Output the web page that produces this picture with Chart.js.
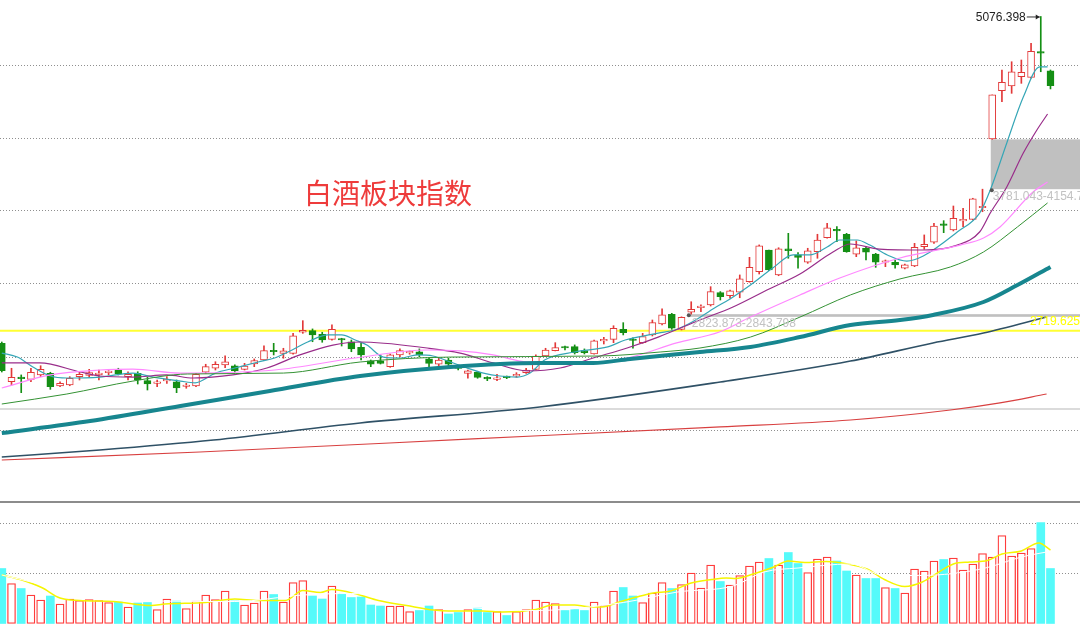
<!DOCTYPE html>
<html>
<head>
<meta charset="utf-8">
<script src="https://cdn.jsdelivr.net/npm/chart.js@4.4.0/dist/chart.umd.min.js"></script>
<style>
  html, body { margin: 0; padding: 0; background: #fff; }
  #wrap { position: relative; width: 1080px; height: 625px; overflow: hidden; }
  #priceBox { position: absolute; left: 0; top: 0; width: 1080px; height: 502px; }
  #volBox { position: absolute; left: 0; top: 503px; width: 1080px; height: 122px; }
  #sep { position: absolute; left: 0; top: 501px; width: 1080px; height: 2px; background: #8c8c8c; }
  #title { position: absolute; left: 304px; top: 176px; font: 28px "Noto Sans CJK SC", sans-serif; line-height: 32px; color: #ee3b3b; }
</style>
</head>
<body>
<div id="wrap">
  <div id="priceBox"><canvas id="priceChart" width="1080" height="502"></canvas></div>
  <div id="sep"></div>
  <div id="volBox"><canvas id="volChart" width="1080" height="122"></canvas></div>
  <div id="title">白酒板块指数</div>
</div>
<script>
// daily candles
const opens = [2625, 2337, 2370, 2355, 2388, 2400, 2305, 2313, 2375, 2385,
  2390, 2405, 2425, 2375, 2400, 2345, 2325, 2343, 2337, 2301,
  2305, 2408, 2438, 2463, 2457, 2430, 2470, 2500, 2573, 2550,
  2550, 2708, 2720, 2693, 2655, 2658, 2637, 2595, 2493, 2493,
  2450, 2538, 2553, 2562, 2508, 2468, 2500, 2440, 2400, 2408,
  2362, 2355, 2373, 2380, 2405, 2430, 2530, 2570, 2595, 2600,
  2570, 2545, 2643, 2655, 2730, 2650, 2630, 2688, 2770, 2843,
  2730, 2858, 2893, 2913, 3005, 2982, 3008, 3087, 3162, 3325,
  3138, 3333, 3288, 3233, 3312, 3417, 3480, 3443, 3293, 3338,
  3295, 3233, 3233, 3188, 3205, 3350, 3383, 3515, 3475, 3543,
  3555, 3642, 4158, 4520, 4555, 4625, 4620, 4809, 4668];
const highs = [2635, 2438, 2388, 2438, 2457, 2408, 2337, 2375, 2408, 2430,
  2425, 2420, 2438, 2412, 2412, 2370, 2350, 2375, 2350, 2325,
  2400, 2468, 2487, 2532, 2463, 2475, 2508, 2607, 2625, 2588,
  2700, 2795, 2733, 2708, 2763, 2663, 2650, 2625, 2500, 2538,
  2545, 2583, 2568, 2583, 2513, 2513, 2513, 2445, 2425, 2412,
  2375, 2393, 2380, 2405, 2438, 2538, 2588, 2630, 2605, 2613,
  2583, 2650, 2670, 2757, 2780, 2667, 2700, 2800, 2883, 2850,
  2823.873, 2937, 2913, 3050, 3013, 3025, 3138, 3270, 3363, 3325,
  3342, 3450, 3305, 3338, 3443, 3525, 3500, 3450, 3393, 3350,
  3300, 3250, 3250, 3220, 3375, 3438, 3525, 3545, 3655, 3638,
  3713, 3781.043, 4488, 4675, 4737, 4750, 4875, 5076.398, 4675];
const lows = [2410, 2313, 2255, 2337, 2375, 2280, 2300, 2307, 2350, 2370,
  2350, 2388, 2388, 2350, 2320, 2275, 2300, 2325, 2255, 2288,
  2300, 2400, 2425, 2442, 2408, 2425, 2450, 2495, 2538, 2513,
  2543, 2700, 2637, 2633, 2648, 2605, 2562, 2500, 2450, 2470,
  2445, 2525, 2543, 2525, 2445, 2450, 2450, 2425, 2363, 2363,
  2345, 2345, 2360, 2370, 2400, 2425, 2525, 2568, 2575, 2545,
  2545, 2543, 2620, 2630, 2688, 2588, 2625, 2680, 2763, 2730,
  2725, 2843.798, 2862, 2905, 2950, 2963, 2967, 3083, 3145, 3170,
  3132, 3263, 3188, 3225, 3263, 3413, 3387, 3308, 3275, 3250,
  3195, 3200, 3188, 3183, 3200, 3330, 3375, 3455, 3468, 3500,
  3550, 3612, 4154.7, 4437, 4500, 4575, 4613, 4662, 4533];
const closes = [2420, 2370, 2360, 2408, 2430, 2300, 2325, 2363, 2393, 2405,
  2400, 2410, 2395, 2393, 2350, 2320, 2330, 2350, 2290, 2309,
  2393, 2450, 2468, 2487, 2420, 2455, 2495, 2570, 2562, 2568,
  2682, 2723, 2688, 2650, 2730, 2650, 2583, 2538, 2468, 2475,
  2538, 2570, 2558, 2538, 2475, 2500, 2468, 2436, 2418, 2370,
  2358, 2360, 2368, 2393, 2425, 2530, 2575, 2593, 2590, 2555,
  2555, 2643, 2647, 2738, 2705, 2646, 2675, 2780, 2838, 2738,
  2820, 2880, 2898, 3013, 2975, 3018, 3108, 3195, 3357, 3175,
  3333, 3320, 3270, 3318, 3400, 3492, 3468, 3312, 3342, 3308,
  3233, 3243, 3213, 3213, 3345, 3368, 3505, 3510, 3563, 3550,
  3708, 3650, 4488, 4583, 4662, 4658, 4815, 4801, 4557];
const volumes = [110, 80, 70, 57, 47, 55, 39, 49, 46, 48,
  46, 42, 43, 33, 41, 42, 28, 49, 45, 30,
  45, 57, 48, 65, 45, 37, 41, 65, 58, 43,
  82, 86, 55, 49, 75, 60, 52, 53, 37, 35,
  35, 35, 24, 26, 35, 28, 19, 22, 28, 31,
  22, 24, 16, 24, 28, 47, 43, 40, 26, 28,
  26, 43, 36, 65, 72, 55, 42, 61, 82, 70,
  78, 101, 71, 117, 84, 77, 96, 115, 123, 130,
  117, 142, 120, 102, 129, 133, 125, 105, 97, 90,
  90, 72, 70, 61, 109, 105, 125, 128, 131, 107,
  119, 140, 133, 176, 135, 141, 150, 202, 110];

// moving average lines, [day index, value] read at points along each curve
const ma5Pts = [[0,2552],[1.6,2522],[3.2,2448],[5,2380],[6.7,2365],[10.1,2372],[13.5,2402],[15.6,2372],[18.4,2342],[19.9,2328],
  [22,2402],[24,2440],[26.4,2485],[28.1,2515],[29.9,2575],[31.5,2635],[33.6,2688],[35,2688],[36.4,2650],[37.6,2612],
  [39.3,2522],[41,2515],[42.8,2538],[44.4,2530],[46.2,2485],[47.9,2440],[49.6,2402],[51.3,2380],[53.1,2372],[54.4,2402],
  [55.9,2500],[59,2560],[62.4,2598],[64.2,2650],[67.6,2702],[69.3,2725],[71.1,2785],[73.4,2890],[75,2958],[77.1,3062],
  [79.4,3190],[81.5,3288],[83.2,3288],[85,3348],[86.3,3400],[88.1,3400],[89.4,3362],[91.2,3288],[93.2,3242],[94.9,3280],
  [98.4,3460],[100.7,3602],[101.8,3775],[103.5,4128],[105.2,4472],[106.9,4698],[107.7,4698]];
const ma10Pts = [[0,2478],[3.9,2478],[8.1,2410],[10.1,2380],[13.5,2372],[17,2388],[19.7,2365],[23.8,2388],[27.3,2440],[30.7,2538],
  [34.1,2612],[36.9,2635],[43.8,2590],[47.2,2552],[50.6,2478],[54.1,2418],[57.5,2440],[60.9,2515],[64.4,2590],[67.6,2672],
  [71.9,2800],[75.3,2898],[78.8,3025],[82.2,3145],[85.6,3310],[87.4,3370],[90.4,3332],[94.9,3325],[98.4,3362],[100.7,3460],
  [101.8,3602],[103.5,3798],[105.2,4052],[106.6,4225],[107.7,4345]];
const ma20Pts = [[0,2290],[5,2388],[10.1,2425],[13.5,2432],[18.4,2402],[28.1,2425],[36.4,2515],[43.8,2575],[47.2,2568],[50.6,2538],
  [54.1,2485],[59.2,2478],[64.4,2515],[69.5,2628],[73.9,2710],[77.1,2822],[82.2,2988],[86.3,3115],[92.5,3265],[98.7,3362],
  [101.1,3415],[102.8,3498],[106.2,3760],[107.7,3835]];
const ma30Pts = [[0,2170],[6.7,2245],[13.5,2342],[19.1,2395],[29,2402],[36.9,2485],[46.2,2522],[61.6,2530],[67.8,2560],[71.9,2590],
  [77.1,2672],[82.2,2822],[87.4,2988],[92.5,3108],[97.7,3198],[101.1,3310],[104.6,3498],[107.7,3678]];
const ma60Pts = [[0,1952],[9.1,2042],[18.4,2155],[27.6,2268],[36.9,2380],[46.2,2448],[55.4,2478],[60.9,2478],[64.7,2508],[71.9,2560],
  [77.1,2598],[82.2,2672],[87.4,2762],[92.5,2800],[95.9,2838],[101.1,2935],[104.6,3062],[108,3198]];
const ma120Pts = [[0,1772],[10.1,1825],[21.8,1900],[36.9,2028],[55.4,2148],[74,2335],[87.4,2492],[95.9,2628],[101.1,2702],[107.6,2822]];
const ma250Pts = [[0,1750],[20.4,1810],[48.5,1908],[74,1998],[87.4,2050],[97.7,2125],[102.8,2178],[107.6,2245]];

// volume averages
const volMa5Pts = [[0,97],[1.9,88],[4.1,72],[6,51],[8,46],[11.5,44],[15.4,36],[16.8,39],[21,42],[24,49],
  [26.4,46],[29.2,46],[31,66],[32.8,62],[34,68],[36.7,58],[38.8,46],[41.7,36],[44.5,27],[46,25],
  [49.5,25],[51.6,23],[55,28],[56.8,37],[59,37],[60.2,34],[61.8,33],[63.6,43],[65.4,53],[67.1,61],
  [68.9,65],[71,81],[73.1,88],[74.6,91],[75.6,90],[77.4,99],[79.5,113],[81,125],[82.7,122],[84.9,124],
  [87.4,118],[89.1,109],[90.9,88],[93,74],[94.8,83],[96.2,99],[98,119],[99.7,123],[101.5,126],[103,139],
  [105,145],[106.8,161],[108,147]];
const volMa10Pts = [[0,97],[8,62],[16,45],[24,44],[31,57],[36,60],[42,45],[48,32],[55,26],[64,42],
  [69.6,63],[75.3,75],[78.5,103],[82,111],[87.4,119],[90.9,96],[94.4,96],[98,100],[101.5,112],[105,133],[107.6,143]];

// levels marked on the chart
const priceGrid = [1975, 2522.5, 3070, 3617.5, 4165, 4712.5];
const volGrid = [100, 200];
const yellowLevel = 2719.625;
const grayLevel = 2132.5;
const smallGap = [2823.873, 2843.798];
const bigGap = [3781.043, 4154.7];
const smallGapStart = 70.65;
const bigGapStart = 101.85;
const peakDay = 107;

const X_MIN = -0.185, X_MAX = 111.04;
const RED = '#e23838', GREEN = '#148f14';
const isUp = closes.map((c, i) => c >= opens[i]);

function pts(arr) {
  return arr.map(([x, y]) => ({ x: x, y: y }));
}
function maLine(arr, color, width) {
  return {
    type: 'line', data: pts(arr), borderColor: color, borderWidth: width,
    pointRadius: 0, cubicInterpolationMode: 'monotone', order: 0
  };
}

const priceMarks = {
  id: 'priceMarks',
  beforeDatasetsDraw(chart) {
    const { ctx, chartArea: a, scales: { x, y } } = chart;
    ctx.save();
    // gap boxes
    ctx.fillStyle = '#c0c0c0';
    let x0 = x.getPixelForValue(bigGapStart);
    let yt = y.getPixelForValue(bigGap[1]), yb = y.getPixelForValue(bigGap[0]);
    ctx.fillRect(x0, yt, a.right - x0, yb - yt);
    x0 = x.getPixelForValue(smallGapStart);
    yt = y.getPixelForValue(smallGap[1]); yb = y.getPixelForValue(smallGap[0]);
    ctx.fillRect(x0, yt, a.right - x0, yb - yt);
    // horizontal levels
    ctx.lineWidth = 1.5;
    ctx.strokeStyle = '#cfcfcf';
    let yy = y.getPixelForValue(grayLevel);
    ctx.beginPath(); ctx.moveTo(a.left, yy); ctx.lineTo(a.right, yy); ctx.stroke();
    ctx.lineWidth = 2;
    ctx.strokeStyle = '#ffff33';
    yy = y.getPixelForValue(yellowLevel);
    ctx.beginPath(); ctx.moveTo(a.left, yy); ctx.lineTo(a.right, yy); ctx.stroke();
    ctx.restore();
  },
  afterDatasetsDraw(chart) {
    const { ctx, chartArea: a, scales: { x, y } } = chart;
    ctx.save();
    ctx.font = '12px "Liberation Sans", Arial, sans-serif';
    ctx.textBaseline = 'alphabetic';
    // gap labels
    ctx.fillStyle = '#c2c2c2';
    ctx.textAlign = 'left';
    let gx = x.getPixelForValue(bigGapStart);
    ctx.fillText(bigGap[0].toFixed(3) + '-' + bigGap[1], gx + 2, y.getPixelForValue(bigGap[0]) + 11);
    let sx = x.getPixelForValue(smallGapStart);
    ctx.fillText(smallGap[0].toFixed(3) + '-' + smallGap[1].toFixed(3), sx + 4, y.getPixelForValue(smallGap[0]) + 10);
    // start markers
    ctx.fillStyle = '#555';
    ctx.beginPath(); ctx.arc(sx + 1, y.getPixelForValue(smallGap[1]) + 1, 2, 0, Math.PI * 2); ctx.fill();
    ctx.beginPath(); ctx.arc(gx + 1, y.getPixelForValue(bigGap[0]) + 1, 2, 0, Math.PI * 2); ctx.fill();
    // yellow level label
    ctx.fillStyle = '#ffff00';
    ctx.textAlign = 'right';
    ctx.fillText(yellowLevel.toFixed(3), a.right, y.getPixelForValue(yellowLevel) - 6);
    // peak marker
    const px = x.getPixelForValue(peakDay);
    const py = y.getPixelForValue(highs[peakDay]);
    ctx.fillStyle = '#222';
    ctx.fillText(highs[peakDay].toFixed(3), px - 15, py + 5);
    ctx.strokeStyle = '#333';
    ctx.lineWidth = 1;
    ctx.beginPath(); ctx.moveTo(px - 14, py + 0.5); ctx.lineTo(px - 1, py + 0.5); ctx.stroke();
    ctx.beginPath(); ctx.moveTo(px - 1, py + 0.5); ctx.lineTo(px - 5, py - 2); ctx.lineTo(px - 5, py + 3); ctx.closePath(); ctx.fill();
    ctx.restore();
  }
};

new Chart(document.getElementById('priceChart'), {
  type: 'bar',
  data: {
    datasets: [
      maLine(ma250Pts, '#d84040', 1.2),
      maLine(ma120Pts, '#2f5166', 1.6),
      maLine(ma60Pts, '#17868f', 4),
      maLine(ma30Pts, '#349234', 1),
      maLine(ma20Pts, '#ff88ff', 1.2),
      maLine(ma10Pts, '#992d8a', 1.2),
      maLine(ma5Pts, '#35a6b6', 1.2),
      {
        // wicks
        data: opens.map((o, i) => ({ x: i, y: [lows[i], highs[i]] })),
        backgroundColor: isUp.map(u => u ? RED : GREEN),
        barThickness: 1, grouped: false, order: 2, minBarLength: 1
      },
      {
        // bodies
        data: opens.map((o, i) => ({ x: i, y: [o, closes[i]] })),
        backgroundColor: isUp.map(u => u ? '#ffffff' : GREEN),
        borderColor: isUp.map(u => u ? RED : GREEN),
        borderWidth: 1, borderSkipped: false,
        barThickness: 7, grouped: false, order: 1, minBarLength: 1.5
      }
    ]
  },
  options: {
    responsive: false,
    animation: false,
    layout: { padding: 0 },
    plugins: { legend: { display: false }, tooltip: { enabled: false } },
    scales: {
      x: { type: 'linear', min: X_MIN, max: X_MAX, display: false, offset: false },
      y: {
        min: 1435, max: 5200,
        afterBuildTicks: s => { s.ticks = priceGrid.map(v => ({ value: v })); },
        ticks: { display: false },
        grid: { color: '#8f8f8f', drawTicks: false, lineWidth: 1 },
        border: { display: false, dash: [1, 2] }
      }
    }
  },
  plugins: [priceMarks]
});

new Chart(document.getElementById('volChart'), {
  type: 'bar',
  data: {
    datasets: [
      {
        data: volumes.map((v, i) => ({ x: i, y: v })),
        backgroundColor: isUp.map(u => u ? '#ffffff' : '#55fafa'),
        borderColor: isUp.map(u => u ? '#ff3c3c' : '#55fafa'),
        borderWidth: isUp.map(u => u ? 1.3 : 0),
        borderSkipped: false,
        barThickness: 8, grouped: false, order: 2
      },
      maLine(volMa10Pts, '#ffffff', 1),
      maLine(volMa5Pts, '#f5f500', 1.5)
    ]
  },
  options: {
    responsive: false,
    animation: false,
    layout: { padding: 0 },
    plugins: { legend: { display: false }, tooltip: { enabled: false } },
    scales: {
      x: { type: 'linear', min: X_MIN, max: X_MAX, display: false, offset: false },
      y: {
        min: -3, max: 241,
        afterBuildTicks: s => { s.ticks = volGrid.map(v => ({ value: v })); },
        ticks: { display: false },
        grid: { color: '#8f8f8f', drawTicks: false, lineWidth: 1 },
        border: { display: false, dash: [1, 2] }
      }
    }
  }
});
</script>
</body>
</html>
